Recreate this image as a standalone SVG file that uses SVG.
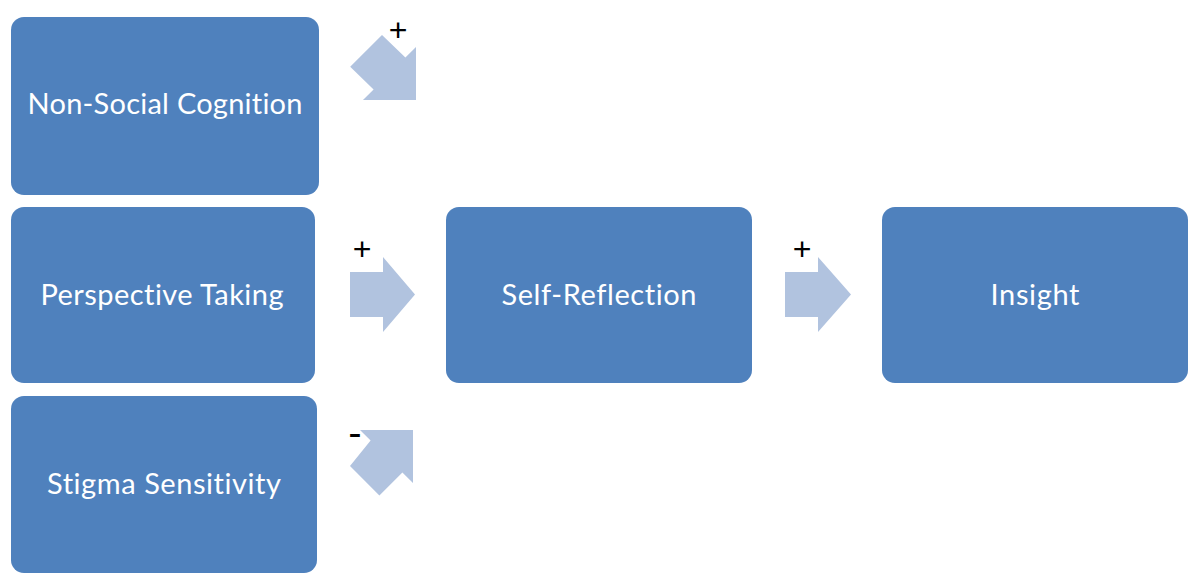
<svg xmlns="http://www.w3.org/2000/svg" width="1200" height="586" viewBox="0 0 1200 586">
<style>
.box{fill:#4F81BD;}
.lbl{font-family:Lato,"Open Sans",sans-serif;font-size:29px;fill:#FFFFFF;text-anchor:middle;font-variant-ligatures:none;}
.arr{fill:#B1C3DF;}
.sign{font-family:"Liberation Sans",Arial,sans-serif;font-size:32px;fill:#000000;text-anchor:middle;}
.minus{font-family:"Open Sans",sans-serif;font-size:40px;fill:#000000;text-anchor:middle;}
</style>
<rect width="1200" height="586" fill="#FFFFFF"/>
<g id="non-social-cognition">
<rect class="box" x="11" y="17" width="308" height="178" rx="13"/>
<text class="lbl" x="165" y="114" textLength="275">Non-Social Cognition</text>
</g>
<g id="perspective-taking">
<rect class="box" x="11" y="207" width="304" height="176" rx="13"/>
<text class="lbl" x="162" y="305" textLength="243">Perspective Taking</text>
</g>
<g id="stigma-sensitivity">
<rect class="box" x="11" y="396" width="306" height="177" rx="13"/>
<text class="lbl" x="164" y="494" textLength="234">Stigma Sensitivity</text>
</g>
<g id="self-reflection">
<rect class="box" x="446" y="207" width="306" height="176" rx="13"/>
<text class="lbl" x="599" y="305" textLength="195">Self-Reflection</text>
</g>
<g id="insight">
<rect class="box" x="882" y="207" width="306" height="176" rx="13"/>
<text class="lbl" x="1035" y="305" textLength="89">Insight</text>
</g>
<g id="connectors">
<polygon class="arr" points="382,35 405.4,57.6 416,47 416,100 363,100 373.6,89.4 350.2,66.8"/>
<polygon class="arr" points="350,272 383,272 383,257 415,294.5 383,332 383,317 350,317"/>
<polygon class="arr" points="785,272 818,272 818,257 851,294.5 818,332 818,317 785,317"/>
<polygon class="arr" points="413,430 413,483 402.4,472.4 379.4,495.4 350,466 370.6,440.6 360,430"/>
<text class="sign" x="398" y="41">+</text>
<text class="sign" x="362" y="260">+</text>
<text class="sign" x="802" y="260">+</text>
<text class="minus" x="355" y="446">-</text>
</g>
</svg>
